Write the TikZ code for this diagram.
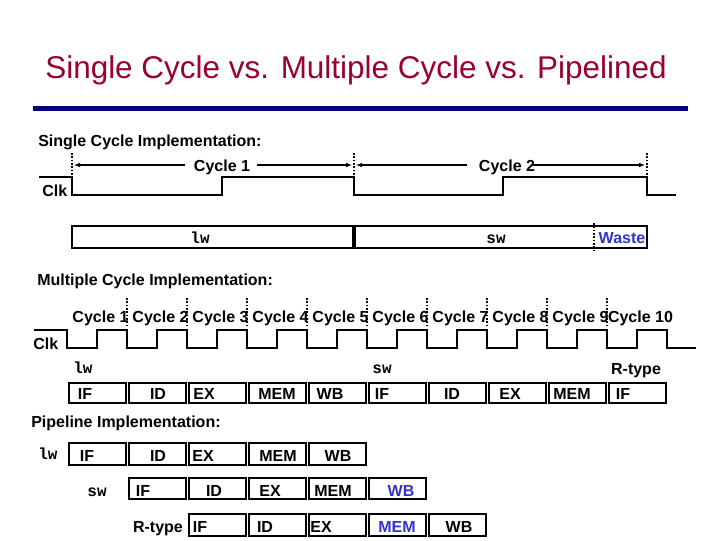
\documentclass[tikz,border=0pt]{standalone}
\usepackage{fontspec}
\setmainfont{Liberation Sans}
\setmonofont{Liberation Mono}
\usetikzlibrary{arrows.meta}
\definecolor{titlered}{RGB}{153,0,51}
\definecolor{rulenavy}{RGB}{0,0,128}
\definecolor{hiblue}{RGB}{51,51,204}
\begin{document}
\begin{tikzpicture}[x=0.75pt,y=-0.75pt,
  lab/.style={font=\fontsize{12}{14}\selectfont\bfseries, inner sep=0pt, anchor=base},
  mono/.style={font=\fontsize{12}{14}\selectfont\ttfamily\bfseries, inner sep=0pt, anchor=base},
  clk/.style={line width=1.5pt, line join=miter, line cap=rect},
  boxline/.style={draw, line width=1.5pt},
  dotv/.style={line width=1pt, dash pattern=on 1.2pt off 1.3pt},
  arr/.style={line width=0.8pt, -{Latex[length=4.5pt,width=3.5pt]}},
]
\useasboundingbox (0,0) rectangle (720,540);
\fill[white] (0,0) rectangle (720,540);

% Title and rule
\node[font=\fontsize{23.6}{28}\selectfont, text=titlered, anchor=base, inner sep=0pt] (title) at (356,78) {Single Cycle vs. Multiple Cycle vs. Pipelined};
\coordinate (ruleL) at (33,108);
\coordinate (ruleR) at (688,108);
\draw[rulenavy, line width=3.75pt] (ruleL) -- (ruleR);

% ---------------- Single cycle ----------------
\node[lab, anchor=base west] (h1) at (38,146) {Single Cycle Implementation:};
\node[lab, anchor=base west] (clk1) at (42,196) {Clk};
\draw[clk] (40,177) -- (72,177) -- (72,195) -- (222,195) -- (222,177) -- (354,177) -- (354,195) -- (503,195) -- (503,177) -- (647,177) -- (647,195) -- (675,195);
\foreach \x in {72,354,647} \draw[dotv] (\x,153) -- (\x,176);

\node[lab] (cy1) at (222,171) {Cycle 1};
\node[lab] (cy2) at (507,171) {Cycle 2};
\coordinate (a1l) at (185,165); \coordinate (a1le) at (74,165);
\coordinate (a1r) at (257,165); \coordinate (a1re) at (352,165);
\coordinate (a2l) at (467,165); \coordinate (a2le) at (356,165);
\coordinate (a2r) at (533,165); \coordinate (a2re) at (645,165);
\draw[arr] (a1l) -- (a1le);
\draw[arr] (a1r) -- (a1re);
\draw[arr] (a2l) -- (a2le);
\draw[arr] (a2r) -- (a2re);

\draw[boxline] (72,226) rectangle (647,248);
\draw[line width=3pt] (354,226) -- (354,248);
\draw[dotv] (594,223) -- (594,251);
\node[mono] (slw) at (200,243) {lw};
\node[mono] (ssw) at (496,243) {sw};
\node[lab, text=hiblue] (waste) at (622,243) {Waste};

% ---------------- Multiple cycle ----------------
\node[lab, anchor=base west] (h2) at (37,285) {Multiple Cycle Implementation:};
\foreach \k in {1,...,10} \node[lab] (mc\k) at (100.5+60*\k-60,322) {Cycle \k};
\foreach \k in {0,...,8} \draw[dotv] (127+60*\k,298) -- (127+60*\k,327);
\node[lab, anchor=base west] (clk2) at (33,349) {Clk};
\draw[clk] (35,330) -- (67,330);
\foreach \k in {0,...,9} \draw[clk] (67+60*\k,330) -- (67+60*\k,348) -- (97+60*\k,348) -- (97+60*\k,330) -- (127+60*\k,330);
\draw[clk] (667,330) -- (667,348) -- (695,348);

\node[mono] (mlw) at (83,373) {lw};
\node[mono] (msw) at (382,373) {sw};
\node[lab] (mrt) at (636,374) {R-type};
\foreach \k/\s/\tx in {0/IF/85,1/ID/158,2/EX/204,3/MEM/277,4/WB/330,5/IF/382,6/ID/452,7/EX/510,8/MEM/572,9/IF/623}{
  \draw[boxline] (69+60*\k,383) rectangle (126+60*\k,403);
  \node[lab] (ms\k) at (\tx,399) {\s};
}

% ---------------- Pipeline ----------------
\node[lab, anchor=base west] (h3) at (31,427) {Pipeline Implementation:};
\node[mono] (plw) at (48,459) {lw};
\node[mono] (psw) at (97,496) {sw};
\node[lab] (prt) at (158,532) {R-type};
\foreach \k/\s/\tx/\c in {0/IF/87/black,1/ID/158/black,2/EX/203/black,3/MEM/278/black,4/WB/338/black}{
  \draw[boxline] (69+60*\k,443) rectangle (126+60*\k,465);
  \node[lab, text=\c] (pa\k) at (\tx,461) {\s};
}
\foreach \k/\s/\tx/\c in {1/IF/143/black,2/ID/214/black,3/EX/270/black,4/MEM/333/black,5/WB/401/hiblue}{
  \draw[boxline] (69+60*\k,478) rectangle (126+60*\k,499);
  \node[lab, text=\c] (pb\k) at (\tx,496) {\s};
}
\foreach \k/\s/\tx/\c in {2/IF/200/black,3/ID/265/black,4/EX/321/black,5/MEM/397/hiblue,6/WB/459/black}{
  \draw[boxline] (69+60*\k,514) rectangle (126+60*\k,536);
  \node[lab, text=\c] (pc\k) at (\tx,532) {\s};
}
\end{tikzpicture}
\end{document}
